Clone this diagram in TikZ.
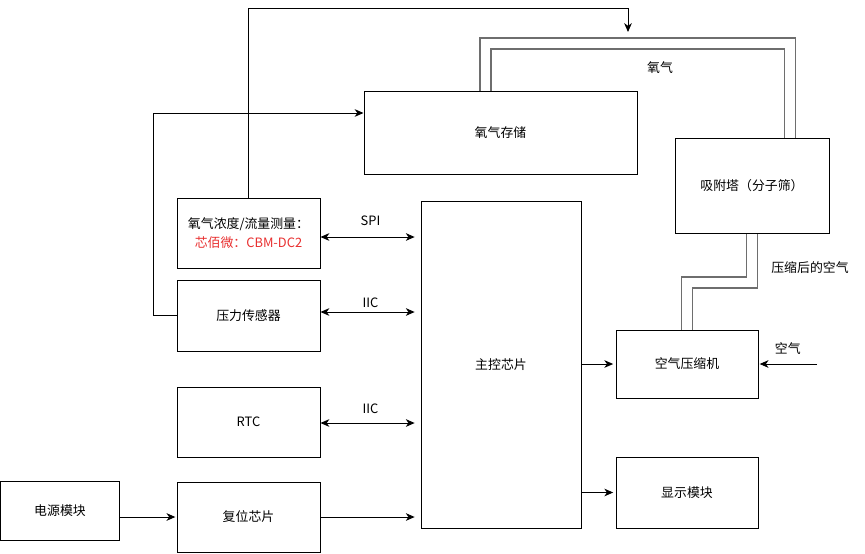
\documentclass[tikz,border=0pt]{standalone}
\usepackage{fontspec}
\setmainfont{Noto Sans CJK SC}
\usepackage{xcolor}
\usepackage{tikz}
\usetikzlibrary{arrows.meta,backgrounds}

\definecolor{chipred}{RGB}{232,48,48}
\definecolor{pipegray}{RGB}{110,110,110}

\begin{document}
\begin{tikzpicture}[x=0.03cm,y=-0.03cm,->,>={Stealth[length=7.5pt,width=6.5pt,inset=2.2pt]},line width=0.85pt,font=\fontsize{11}{14}\selectfont]
  \tikzstyle{block}=[draw,inner sep=2pt,align=center]
  \tikzstyle{pipe}=[-,draw=pipegray,line width=1.5pt,double=white,double distance=7.8pt]

  \useasboundingbox (0,0) rectangle (865,553);

  \node[block,minimum width=8.19cm,minimum height=2.49cm] (store) at (500.5,132.5) {氧气存储};
  \node[block,minimum width=4.62cm,minimum height=2.85cm] (tower) at (752,185.5) {吸附塔（分子筛）};
  \node[block,minimum width=4.29cm,minimum height=2.1cm]  (o2)    at (248.5,233)
        {氧气浓度/流量测量：\\[2pt]\textcolor{chipred}{芯佰微：CBM-DC2}};
  \node[block,minimum width=4.29cm,minimum height=2.13cm] (press) at (248.5,315.5) {压力传感器};
  \node[block,minimum width=4.29cm,minimum height=2.1cm]  (rtc)   at (248.5,422) {RTC};
  \node[block,minimum width=3.54cm,minimum height=1.77cm] (power) at (60,510.5) {电源模块};
  \node[block,minimum width=4.29cm,minimum height=2.1cm]  (reset) at (248.5,517) {复位芯片};
  \node[block,minimum width=4.8cm,minimum height=9.78cm]  (mcu)   at (501,365) {主控芯片};
  \node[block,minimum width=4.26cm,minimum height=2.04cm] (comp)  at (687,364) {空气压缩机};
  \node[block,minimum width=4.26cm,minimum height=2.13cm] (disp)  at (687,492.5) {显示模块};

  \coordinate (drop)  at (628,32);
  \coordinate (airin) at (817,364);

  % gas pipes
  \begin{scope}[on background layer]
    \draw[pipe] ([shift={(-15,0)}]store.north) |- ([shift={(38,-94)}]tower.north) -- ([shift={(38,0)}]tower.north);
    \draw[pipe] (tower.south) -- ++(0,48.7) -| (comp.north);
  \end{scope}
  \node (oxy)  at (660,68)  {氧气};
  \node (cair) at (810,268) {压缩后的空气};

  % buses to the main chip
  \draw[<->,shorten >=5pt] (o2.east |- 0,237)    -- node[above=5.6pt] {SPI} (mcu.west |- 0,237);
  \draw[<->,shorten >=5pt] (press.east |- 0,312) -- node[above] {IIC}       (mcu.west |- 0,312);
  \draw[<->,shorten >=5pt] (rtc.east |- 0,423)   -- node[above=3.9pt] {IIC} (mcu.west |- 0,423);
  \draw[shorten >=5pt] (reset.east) -- (mcu.west |- reset.east);
  \draw[shorten >=1pt] (power.east |- 0,517) -- (reset.west |- 0,517);
  \draw[shorten >=2pt] (mcu.east |- comp.west) -- (comp.west);
  \draw[shorten >=2pt] (mcu.east |- disp.west) -- (disp.west);
  \draw[shorten >=1pt] (airin) -- node[above=4pt] {空气} (comp.east);

  % feedback lines
  \draw (press.west) -- ++(-23,0) |- ([shift={(0,-19.5)}]store.west);
  \draw (o2.north) |- (drop |- 0,8) -- (drop);
\end{tikzpicture}
\end{document}
